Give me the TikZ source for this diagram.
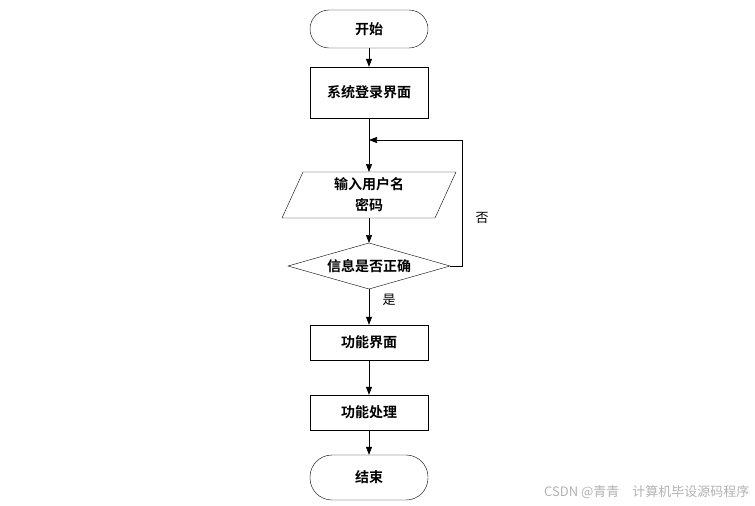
\documentclass[tikz,border=0pt]{standalone}
\usepackage{fontspec}
\newfontfamily\cjk{Noto Sans CJK SC}
\newfontfamily\cjkb{Noto Sans CJK SC Bold}
\usetikzlibrary{arrows.meta,shapes.geometric}
\begin{document}
\begin{tikzpicture}[x=1pt,y=-1pt,
  box/.style={draw,minimum width=118pt,font=\cjkb\fontsize{14}{17}\selectfont,inner sep=0pt},
  term/.style={box,rounded corners=19pt},
  arr/.style={-{Triangle[length=8pt,width=6pt]},line width=0.6pt},
  lbl/.style={font=\cjk\fontsize{13}{15}\selectfont}]
\useasboundingbox (0,0) rectangle (755,506);
\node[term,minimum height=38pt] (s) at (369,29) {开始};
\node[box,minimum height=51pt] (l) at (369,92.5) {系统登录界面};
\coordinate (j) at (369,140);
\draw[fill=white] (303,172) -- (456,172) -- (435,218) -- (282,218) -- cycle;
\node[align=center,font=\cjkb\fontsize{14}{21}\selectfont] (p) at (369,195) {输入用户名\\密码};
\coordinate (pt) at (369,172); \coordinate (pb) at (369,218);
\draw (288,266) -- (369,243) -- (450,266) -- (369,289) -- cycle;
\coordinate (dt) at (369,243); \coordinate (db) at (369,289); \coordinate (dr) at (450,266);
\node[font=\cjkb\fontsize{14}{17}\selectfont] (d) at (369,266) {信息是否正确};
\node[box,minimum height=35pt] (f1) at (369,342.5) {功能界面};
\node[box,minimum height=35pt] (f2) at (369,412.5) {功能处理};
\node[term,minimum height=45pt,rounded corners=22pt] (e) at (369,477.5) {结束};
\draw[arr] (s) -- (l);
\draw[line width=0.6pt] (l) -- (j);
\draw[arr] (j) -- (pt);
\draw[arr] (pb) -- (dt);
\draw[arr] (dr) -- (462,266) -- (462,140) -- (j);
\draw[arr] (db) -- (f1);
\draw[arr] (f1) -- (f2);
\draw[arr] (f2) -- (e);
\node[lbl] (no) at (482,218) {否};
\node[lbl] (yes) at (389,300) {是};
\node[font=\cjk\fontsize{13}{15}\selectfont,text=gray!60,anchor=east] (wm) at (753,492) {CSDN @青青\quad 计算机毕设源码程序};
\end{tikzpicture}
\end{document}
